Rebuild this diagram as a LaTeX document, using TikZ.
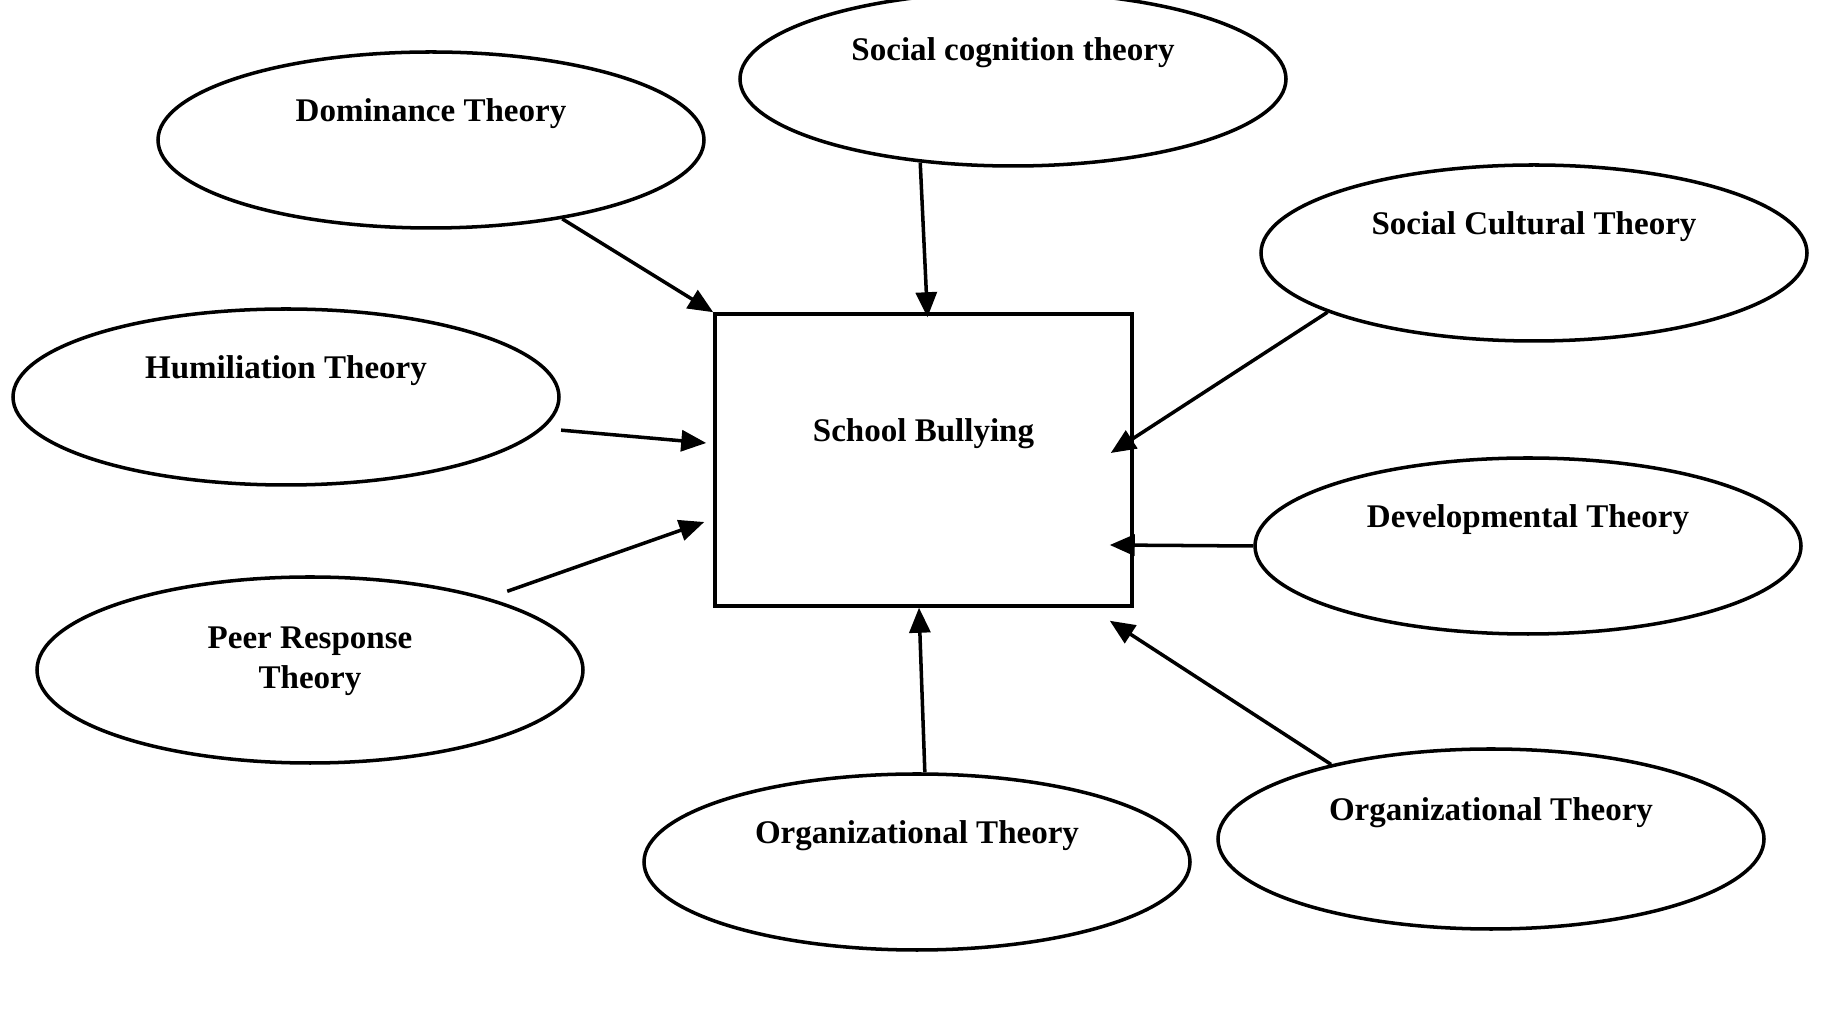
\documentclass[tikz,border=0pt]{standalone}
\usepackage{fontspec}
\setmainfont{Liberation Serif}
\usetikzlibrary{arrows.meta,positioning,calc,shapes.geometric}

\begin{document}
\begin{tikzpicture}[>={Triangle[length=0.25cm,width=0.21cm]},
 font=\fontsize{9.4}{11.3}\selectfont\bfseries,
 theory/.style={draw,ellipse,line width=1pt,minimum width=5.46cm,minimum height=1.76cm,inner sep=0pt,text height=0.25cm,text depth=0.61cm},
 hub/.style={draw,line width=1pt,minimum width=4.17cm,minimum height=2.92cm,inner sep=0pt,text height=0.25cm,text depth=0.61cm},
 link/.style={->,line width=1pt}]
\useasboundingbox (0,0) rectangle (18.32,-10.17);
\node[hub] (sb) at (9.235,-4.60) {School Bullying};
\node[theory] (dom) at (4.31,-1.40) {Dominance Theory};
\node[theory,minimum height=1.74cm] (cog) at (10.13,-0.79) {Social cognition theory};
\node[theory] (cult) at (15.34,-2.53) {Social Cultural Theory};
\node[theory] (hum) at (2.86,-3.97) {Humiliation Theory};
\node[theory] (dev) at (15.28,-5.46) {Developmental Theory};
\node[theory,minimum height=1.86cm,text height=,text depth=0.25cm,align=center] (peer) at (3.10,-6.70) {Peer Response\\Theory};
\node[theory] (orgb) at (9.17,-8.62) {Organizational Theory};
\node[theory,minimum height=1.80cm] (orgr) at (14.91,-8.39) {Organizational Theory};
\draw[link] (dom.-31) -- (sb.north west);
\draw[link] (cog.-138) -- ([xshift=0.04cm,yshift=-0.05cm]sb.north);
\draw[link] (cult.-164) -- ([xshift=-0.23cm,yshift=0.07cm]sb.east);
\draw[link,shorten <=0.18cm] (hum.-7) -- ([xshift=-0.07cm,yshift=0.17cm]sb.west);
\draw[link,shorten <=0.2cm] (peer.22) -- ([xshift=-0.09cm,yshift=-0.62cm]sb.west);
\draw[link] (dev.west) -- ([xshift=-0.24cm,yshift=-0.85cm]sb.east);
\draw[link] (orgb.85) -- ([xshift=-0.045cm]sb.south);
\draw[link] (orgr.155) -- ([xshift=-0.24cm,yshift=-0.13cm]sb.south east);
\end{tikzpicture}
\end{document}
